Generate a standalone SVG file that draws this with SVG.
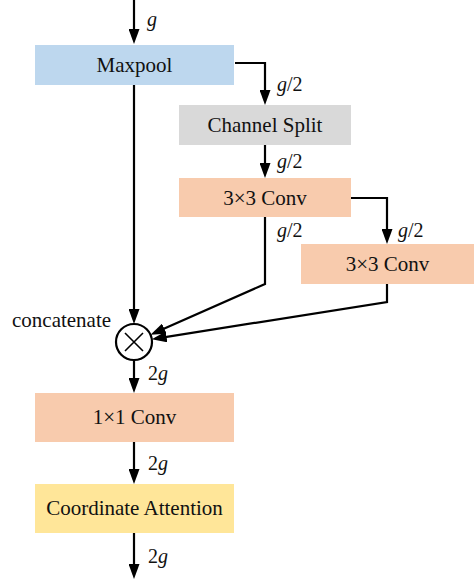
<svg xmlns="http://www.w3.org/2000/svg" width="474" height="579" viewBox="0 0 474 579">
<style>
text{font-family:"Liberation Serif","Times New Roman",serif;fill:#111;}
.t{font-size:21px;text-anchor:middle;}
.l{font-size:20px;}
.i{font-style:italic;}
.c{fill:none;stroke:#000;stroke-width:2.2;}
</style>
<defs>
<marker id="ah" markerUnits="userSpaceOnUse" markerWidth="15" markerHeight="11" refX="11" refY="5.5" orient="auto">
<path d="M0,0 L15,5.5 L0,11 z" fill="#000"/>
</marker>
</defs>
<rect width="474" height="579" fill="#fff"/>
<g id="maxpool"><rect x="35" y="45" width="199" height="40" fill="#bdd7ee"/><text class="t" x="134.5" y="72">Maxpool</text></g>
<g id="split"><rect x="179" y="105" width="172" height="40" fill="#d9d9d9"/><text class="t" x="265" y="132">Channel Split</text></g>
<g id="conv1"><rect x="179" y="178" width="172" height="39" fill="#f8cbad"/><text class="t" x="265" y="204.5">3×3 Conv</text></g>
<g id="conv2"><rect x="301" y="244" width="173" height="40" fill="#f8cbad"/><text class="t" x="387.5" y="271">3×3 Conv</text></g>
<g id="concat"><circle cx="134" cy="342" r="18" fill="#fff" stroke="#000" stroke-width="2.2"/><path d="M125,333 L143,351 M143,333 L125,351" stroke="#000" stroke-width="1.6"/><text x="12" y="327" style="font-size:21px">concatenate</text></g>
<g id="conv11"><rect x="35" y="393" width="199" height="49" fill="#f8cbad"/><text class="t" x="134.5" y="424">1×1 Conv</text></g>
<g id="ca"><rect x="35" y="484" width="199" height="49" fill="#ffe699"/><text class="t" x="134.5" y="515">Coordinate Attention</text></g>
<g id="connectors">
<path class="c" d="M134,0 V40" marker-end="url(#ah)"/>
<path class="c" d="M235,63 H265 V101" marker-end="url(#ah)"/>
<path class="c" d="M265,145 V174" marker-end="url(#ah)"/>
<path class="c" d="M351,198 H387 V240" marker-end="url(#ah)"/>
<path class="c" d="M134,85 V320" marker-end="url(#ah)"/>
<path class="c" d="M265,217 V284 L154.2,333.1" marker-end="url(#ah)"/>
<path class="c" d="M387,284 V302 L155.7,338.6" marker-end="url(#ah)"/>
<path class="c" d="M134,360 V389" marker-end="url(#ah)"/>
<path class="c" d="M134,442 V480" marker-end="url(#ah)"/>
<path class="c" d="M134,533 V575" marker-end="url(#ah)"/>
</g>
<g id="labels">
<text class="l i" x="147" y="26">g</text>
<text class="l" x="277" y="91"><tspan class="i">g</tspan>/2</text>
<text class="l" x="277" y="168"><tspan class="i">g</tspan>/2</text>
<text class="l" x="277" y="237"><tspan class="i">g</tspan>/2</text>
<text class="l" x="398" y="237"><tspan class="i">g</tspan>/2</text>
<text class="l" x="148" y="380">2<tspan class="i">g</tspan></text>
<text class="l" x="148" y="470">2<tspan class="i">g</tspan></text>
<text class="l" x="148" y="563">2<tspan class="i">g</tspan></text>
</g>
</svg>
